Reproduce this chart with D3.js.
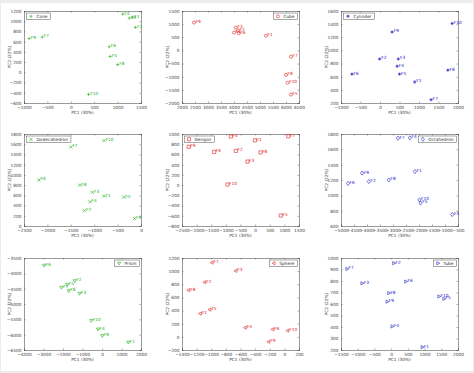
<!DOCTYPE html>
<html>
<head>
<meta charset="utf-8">
<script src="https://cdn.jsdelivr.net/npm/d3@7"></script>
<style>
  body { margin: 0; background: #ececec; }
  svg text { font-family: "DejaVu Sans", sans-serif; }
</style>
</head>
<body>
<div id="chart"></div>
<script>
// point labels, shared by every panel (arrays below are ordered F1..F10)
var pointLabels = ["F1", "F2", "F3", "F4", "F5", "F6", "F7", "F8", "F9", "F10"];

var shapeNames = ["Cone", "Cube", "Cylinder", "Dodecahedron", "Gengon", "Octahedron", "Prism", "Sphere", "Tube"];

// PC1 / PC2 scores per shape
var coneX = [1320, 1380, 1250, 1110, 840, 820, -610, 1000, -890, 380];
var coneY = [1080, 880, 1060, 1140, 310, 500, 690, 150, 660, -430];

var cubeX = [5230, 4150, 4070, 4000, 6190, 4180, 6190, 6000, 2460, 6060];
var cubeY = [560, 760, 870, 680, -1680, 650, -240, -930, 1060, -1230];

var cylinderX = [890, -10, 470, 440, 500, -720, 1310, 1740, 310, 1850];
var cylinderY = [520, 870, 870, 760, 640, 640, 250, 700, 1280, 1410];

var dodecaX = [-790, -1210, -1040, -1090, -370, -2180, -1500, -1310, -140, -790];
var dodecaY = [585, 300, 660, 475, 565, 900, 1545, 800, 145, 1670];

var gengonX = [-10, -660, -260, -830, 880, -1400, 1135, 185, -2270, -945];
var gengonY = [875, 670, 460, 950, -595, 650, 955, 640, 750, 12];

var octaX = [-2160, -3930, -720, -2350, -1940, -4730, -2810, -3160, -4190, -1980];
var octaY = [1310, 1180, 750, 1750, 900, 1155, 1745, 1200, 1290, 940];

var prismX = [1345, -1400, -1155, -205, -1790, -2970, -2085, -1705, 15, -550];
var prismY = [-6250, -4245, -4655, -5820, -4365, -3740, -4460, -4570, -6035, -5540];

var sphereX = [-1150, -1090, -665, -535, -1020, -160, -990, -1310, -215, 45];
var sphereY = [355, 830, 1005, 140, 415, 115, 1130, 710, -75, 95];

var tubeX = [930, 80, -870, 30, 1580, 440, -1320, -70, -120, 1430];
var tubeY = [225, 955, 780, 405, 645, 795, 905, 695, 620, 665];

// axis ticks: [min, max, step]
var xTicks = [[-1000, 1500, 500], [2000, 6500, 500], [-1000, 2000, 500],
              [-2500, 0, 500], [-2500, 1500, 500], [-5000, -500, 500],
              [-4000, 2000, 1000], [-1400, 200, 200], [-1500, 2000, 500]];
var yTicks = [[-600, 1200, 200], [-2000, 1500, 500], [200, 1600, 200],
              [0, 1800, 200], [-800, 1000, 200], [600, 1800, 200],
              [-6500, -3500, 500], [-200, 1200, 200], [200, 1000, 100]];

var xLabel = "PC1 (30%)";
var yLabel = "PC2 (22%)";

var allX = [coneX, cubeX, cylinderX, dodecaX, gengonX, octaX, prismX, sphereX, tubeX];
var allY = [coneY, cubeY, cylinderY, dodecaY, gengonY, octaY, prismY, sphereY, tubeY];

// matlab-ish marker order and colour cycle
var markers = ["plus", "circle", "star", "cross", "square", "diamond", "tridown", "trileft", "triright"];
var colors = ["#18b018", "#e02020", "#2020c8"];
var legendRight = [false, true, false, false, false, true, true, true, true];

var W = 474, H = 373;
var colLeft = [24, 182, 341], rowTop = [11, 134, 258];
var pw = 117, ph = 92;

function markerPath(type, s) {
    switch (type) {
        case "plus": return "M" + (-s) + ",0H" + s + "M0," + (-s) + "V" + s;
        case "star": return "M" + (-s) + ",0H" + s + "M0," + (-s) + "V" + s +
            "M" + (-s * .7) + "," + (-s * .7) + "L" + (s * .7) + "," + (s * .7) +
            "M" + (-s * .7) + "," + (s * .7) + "L" + (s * .7) + "," + (-s * .7);
        case "cross": return "M" + (-s) + "," + (-s) + "L" + s + "," + s + "M" + (-s) + "," + s + "L" + s + "," + (-s);
        case "square": return "M" + (-s) + "," + (-s) + "H" + s + "V" + s + "H" + (-s) + "Z";
        case "diamond": return "M0," + (-s * 1.3) + "L" + s + ",0L0," + (s * 1.3) + "L" + (-s) + ",0Z";
        case "tridown": return "M" + (-s) + "," + (-s * .7) + "H" + s + "L0," + (s * 1.1) + "Z";
        case "trileft": return "M" + (-s * 1.1) + ",0L" + (s * .7) + "," + (-s) + "V" + s + "Z";
        case "triright": return "M" + (s * 1.1) + ",0L" + (-s * .7) + "," + (-s) + "V" + s + "Z";
    }
    return "";
}

function drawMarker(g, type, color, x, y) {
    if (type == "circle") {
        g.append("circle").attr("cx", x).attr("cy", y).attr("r", 1.5)
            .attr("fill", "none").attr("stroke", color).attr("stroke-width", 0.6);
    } else {
        g.append("path").attr("transform", "translate(" + x + "," + y + ")")
            .attr("d", markerPath(type, 1.6))
            .attr("fill", "none").attr("stroke", color).attr("stroke-width", 0.6);
    }
}

var svg = d3.select("#chart").append("svg")
    .attr("width", W).attr("height", H);

svg.append("rect").attr("x", 1).attr("y", 3).attr("width", W - 2).attr("height", H - 5)
    .attr("fill", "#fff");

shapeNames.forEach(function(name, i) {
    var left = colLeft[i % 3], top = rowTop[Math.floor(i / 3)];
    var color = colors[i % 3];
    var xt = xTicks[i], yt = yTicks[i];

    var x = d3.scaleLinear().domain([xt[0], xt[1]]).range([0, pw]);
    var y = d3.scaleLinear().domain([yt[0], yt[1]]).range([ph, 0]);

    var g = svg.append("g").attr("transform", "translate(" + left + "," + top + ")");

    var xVals = d3.range(xt[0], xt[1] + xt[2] / 2, xt[2]);
    var yVals = d3.range(yt[0], yt[1] + yt[2] / 2, yt[2]);

    var xAxis = g.append("g").attr("transform", "translate(0," + ph + ")")
        .call(d3.axisBottom(x).tickValues(xVals).tickSize(-1.5).tickPadding(2.5).tickFormat(d3.format("d")));
    var xTop = g.append("g")
        .call(d3.axisTop(x).tickValues(xVals).tickSize(-1.5).tickFormat(""));
    var yAxis = g.append("g")
        .call(d3.axisLeft(y).tickValues(yVals).tickSize(-1.5).tickPadding(2.5).tickFormat(d3.format("d")));
    var yRight = g.append("g").attr("transform", "translate(" + pw + ",0)")
        .call(d3.axisRight(y).tickValues(yVals).tickSize(-1.5).tickFormat(""));

    [xAxis, xTop, yAxis, yRight].forEach(function(a) {
        a.select(".domain").attr("stroke", "#555").attr("stroke-width", 0.6);
        a.selectAll(".tick line").attr("stroke", "#555").attr("stroke-width", 0.5);
        a.selectAll("text").attr("font-size", 4.3).attr("fill", "#444");
    });

    g.append("text").attr("x", pw / 2).attr("y", ph + 10.5)
        .attr("text-anchor", "middle").attr("font-size", 4.3).attr("fill", "#444")
        .text(xLabel);
    g.append("text").attr("transform", "translate(-13," + (ph / 2) + ") rotate(-90)")
        .attr("text-anchor", "middle").attr("font-size", 4.3).attr("fill", "#444")
        .text(yLabel);

    // points with their labels
    var xs = allX[i], ys = allY[i];
    pointLabels.forEach(function(lab, j) {
        var px = x(xs[j]), py = y(ys[j]);
        drawMarker(g, markers[i], color, px, py);
        g.append("text").attr("x", px + 1.6).attr("y", py).attr("dy", "0.1em")
            .attr("font-size", 4.3).attr("fill", color).text(lab);
    });

    // legend box
    var lg = g.append("g");
    var lt = lg.append("text").attr("y", 5.3).attr("font-size", 4.3).attr("fill", "#333").text(name);
    var tw = lt.node().getComputedTextLength();
    var lw = tw + 13, lh = 6.5;
    var lx = legendRight[i] ? pw - lw - 1.5 : 2.5;
    lg.attr("transform", "translate(" + lx + ",2)");
    lg.insert("rect", "text").attr("width", lw).attr("height", lh)
        .attr("fill", "#fff").attr("stroke", "#555").attr("stroke-width", 0.5);
    lt.attr("x", 10);
    drawMarker(lg, markers[i], color, 4.5, lh / 2);
});
</script>
</body>
</html>
